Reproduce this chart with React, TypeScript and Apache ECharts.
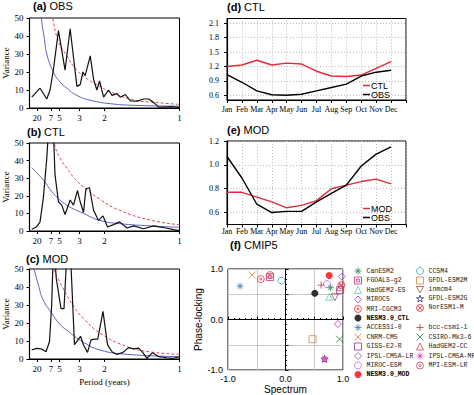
import React, { useEffect, useRef } from 'react';
import * as echarts from 'echarts';

// ---------- DATA ----------
const periodTicks = [20, 7, 5, 3, 2, 1];
const months = ['Jan', 'Feb', 'Mar', 'Apr', 'May', 'Jun', 'Jul', 'Aug', 'Sep', 'Oct', 'Nov', 'Dec'];

// (a) OBS spectrum (x = frequency 1/yr)
const obsFreq = [0.015, 0.07, 0.115, 0.137, 0.159, 0.193, 0.237, 0.271, 0.316, 0.338, 0.356, 0.371, 0.405, 0.427, 0.449, 0.467, 0.494, 0.527, 0.55, 0.583, 0.605, 0.639, 0.672, 0.717, 0.761, 0.795, 0.828, 0.862, 0.895, 0.94, 1.0];
const obsSpec = [6, 11, 5, 10, 21, 43, 21, 44, 12, 13, 20, 18, 29, 16, 10, 15, 6, 10, 7, 8, 6, 7.5, 4, 3.8, 5, 5, 3, 0.5, 0.5, 0.8, 0.3];
const obsRedFreq = [0.06, 0.079, 0.1, 0.115, 0.159, 0.203, 0.249, 0.316, 0.405, 0.539, 0.695, 1.0];
const obsRed = [68, 50, 38, 30, 20, 14.5, 11, 7, 4.3, 2.4, 1.5, 1.0];
const obsSigFreq = [0.14, 0.155, 0.193, 0.249, 0.316, 0.405, 0.47, 0.539, 0.695, 0.85, 1.0];
const obsSig = [58, 50, 37, 29, 21, 15, 12, 9, 4.5, 3, 2];

// (b) CTL spectrum
const ctlFreq = [0.015, 0.046, 0.07, 0.092, 0.115, 0.13, 0.145, 0.159, 0.17, 0.193, 0.215, 0.237, 0.271, 0.293, 0.32, 0.338, 0.36, 0.376, 0.4, 0.427, 0.46, 0.49, 0.52, 0.56, 0.6, 0.65, 0.695, 0.76, 0.828, 0.862, 0.91, 0.96, 1.0];
const ctlSpec = [1, 2.3, 5, 18.5, 41, 62, 68, 58, 32, 16.6, 14.7, 9.4, 17.6, 14.7, 23, 16.6, 10.5, 24, 24.6, 11.8, 6, 8.6, 2.3, 3.6, 5.2, 1.7, 2.9, 1.3, 2.9, 2.3, 1.7, 0.8, 0.2];
const ctlRedFreq = [0.015, 0.092, 0.159, 0.249, 0.36, 0.47, 0.6, 0.81, 1.0];
const ctlRed = [36, 29, 21.4, 14.7, 10, 6, 4.2, 2.9, 2.1];
const ctlSigFreq = [0.155, 0.165, 0.2, 0.249, 0.3, 0.36, 0.47, 0.6, 0.81, 1.0];
const ctlSig = [58, 50, 42, 35.7, 30, 25, 18, 11.8, 6.1, 3.6];

// (c) MOD spectrum
const modFreq = [0.015, 0.046, 0.08, 0.11, 0.133, 0.148, 0.158, 0.168, 0.178, 0.21, 0.23, 0.245, 0.26, 0.275, 0.3, 0.34, 0.36, 0.387, 0.41, 0.435, 0.455, 0.49, 0.52, 0.55, 0.58, 0.62, 0.66, 0.695, 0.728, 0.76, 0.783, 0.82, 0.862, 0.917, 0.96, 1.0];
const modSpec = [5, 5.9, 5.6, 4, 9.6, 30, 58, 60, 45, 28, 28, 52, 64, 55, 8, 12.6, 7.8, 3.7, 10.6, 11, 11, 26.5, 8, 4, 2.6, 3.5, 6.3, 5.6, 6, 3.1, 0.4, 3.5, 1.3, 0.7, 0.4, 1.3];
const modRedFreq = [0.03, 0.06, 0.09, 0.148, 0.2, 0.249, 0.36, 0.47, 0.65, 1.0];
const modRed = [50, 41, 33, 25.5, 19.5, 16, 9.3, 5, 2.6, 1.3];
const modSigFreq = [0.15, 0.163, 0.2, 0.249, 0.3, 0.36, 0.47, 0.65, 0.8, 1.0];
const modSig = [58, 50, 43, 35.5, 28.5, 22.6, 14.4, 6.9, 4, 2.6];

// (d) CTL seasonal
const ctlSeason = [1.20, 1.23, 1.33, 1.23, 1.27, 1.25, 1.10, 1.00, 0.99, 1.02, 1.16, 1.30];
const obsSeasonD = [1.03, 0.87, 0.69, 0.61, 0.60, 0.62, 0.69, 0.76, 0.83, 1.00, 1.08, 1.12];
const dTicks = [0.6, 0.9, 1.2, 1.5, 1.8, 2.1];

// (e) MOD seasonal
const modSeason = [0.77, 0.77, 0.73, 0.69, 0.64, 0.66, 0.70, 0.80, 0.83, 0.86, 0.88, 0.84];
const obsSeasonE = [1.07, 0.89, 0.67, 0.60, 0.61, 0.61, 0.69, 0.76, 0.83, 0.99, 1.09, 1.15];
const eTicks = [0.6, 0.8, 1.0, 1.2];

// (f) CMIP5 scores
const modelNames = ['CanESM2', 'CCSM4', 'FGOALS-g2', 'GFDL-ESM2M', 'HadGEM2-ES', 'inmcm4', 'MIROC5', 'GFDL-ESM2G', 'MRI-CGCM3', 'NorESM1-M', 'NESM3.0_CTL',
  'ACCESS1-0', 'bcc-csm1-1', 'CNRM-CM5', 'CSIRO-Mk3-6', 'GISS-E2-R', 'HadGEM2-CC', 'IPSL-CM5A-LR', 'IPSL-CM5A-MR', 'MIROC-ESM', 'MPI-ESM-LR', 'NESM3.0_MOD'];
const spectrumScore = [0.78, -0.07, -0.27, 0.47, 0.76, 0.86, 0.91, 0.68, -0.43, 0.97, 0.51, -0.79, 0.62, -0.58, 0.94, 0.95, 0.95, 0.98, 0.68, 0.72, -0.27, 0.76];
const phaseScore = [0.63, 0.77, 0.84, -0.39, 0.45, 0.44, -0.09, -0.78, 0.80, 0.68, 0.52, 0.66, 0.68, 0.88, -0.39, 0.58, 0.64, 0.85, -0.78, 0.70, 0.88, 0.87];
const legendCols = [
  ['CanESM2', 'FGOALS-g2', 'HadGEM2-ES', 'MIROC5', 'MRI-CGCM3', 'NESM3.0_CTL'],
  ['CCSM4', 'GFDL-ESM2M', 'inmcm4', 'GFDL-ESM2G', 'NorESM1-M'],
  ['ACCESS1-0', 'CNRM-CM5', 'GISS-E2-R', 'IPSL-CM5A-LR', 'MIROC-ESM', 'NESM3.0_MOD'],
  ['bcc-csm1-1', 'CSIRO-Mk3-6', 'HadGEM2-CC', 'IPSL-CM5A-MR', 'MPI-ESM-LR'],
];

// ---------- STYLE ----------
const serif = 'Liberation Serif';
const sans = 'Liberation Sans';
const mono = 'Liberation Mono';
const BLUE = '#5a60c8';
const REDD = '#e8474f';
const RED = '#e02b3a';

const SYM: Record<string, string> = {
  asterisk: 'path://M5 0L5 10M0 5L10 5M1.5 1.5L8.5 8.5M8.5 1.5L1.5 8.5',
  cross: 'path://M0 0L10 10M10 0L0 10',
  plus: 'path://M5 0L5 10M0 5L10 5',
  circleDot: 'path://M0 5A5 5 0 1 1 10 5A5 5 0 1 1 0 5ZM3.5 5A1.5 1.5 0 1 1 6.5 5A1.5 1.5 0 1 1 3.5 5Z',
  circleX: 'path://M0 5A5 5 0 1 1 10 5A5 5 0 1 1 0 5ZM1.8 1.8L8.2 8.2M8.2 1.8L1.8 8.2',
  rectDot: 'path://M0 0L10 0L10 10L0 10ZM3 3L7 3L7 7L3 7Z',
  invTri: 'path://M0 0L10 0L5 9Z',
  star: 'path://M5 0L6.2 3.6L10 3.6L6.9 5.9L8.1 9.5L5 7.3L1.9 9.5L3.1 5.9L0 3.6L3.8 3.6Z',
};
const modelStyle: Record<string, [string, string, boolean]> = {
  'CanESM2': [SYM.asterisk, '#2e8b57', false],
  'CCSM4': ['circle', '#3aa0b8', false],
  'FGOALS-g2': [SYM.rectDot, '#c0307a', false],
  'GFDL-ESM2M': ['rect', '#e08040', false],
  'HadGEM2-ES': ['triangle', '#60d0b0', false],
  'inmcm4': [SYM.invTri, '#a0503a', false],
  'MIROC5': ['diamond', '#d030c0', false],
  'GFDL-ESM2G': [SYM.star, '#202080', false],
  'MRI-CGCM3': [SYM.circleDot, '#e03040', false],
  'NorESM1-M': [SYM.circleX, '#e02040', false],
  'NESM3.0_CTL': ['circle', '#000000', true],
  'ACCESS1-0': [SYM.asterisk, '#4080b0', false],
  'bcc-csm1-1': [SYM.plus, '#c03040', false],
  'CNRM-CM5': [SYM.cross, '#e08040', false],
  'CSIRO-Mk3-6': [SYM.cross, '#208040', false],
  'GISS-E2-R': ['rect', '#9030a0', false],
  'HadGEM2-CC': ['triangle', '#e04040', false],
  'IPSL-CM5A-LR': ['diamond', '#9050b0', false],
  'IPSL-CM5A-MR': [SYM.asterisk, '#e040a0', false],
  'MIROC-ESM': ['circle', '#c060e0', false],
  'MPI-ESM-LR': [SYM.circleDot, '#d04050', false],
  'NESM3.0_MOD': ['circle', '#ff0000', true],
};

const pair = (xs: number[], ys: number[]) => xs.map((x, i) => [x, ys[i]]);

function buildOption() {
  const specGrids = [
    { left: 29.5, top: 18, width: 150, height: 90 },
    { left: 29.5, top: 143, width: 150, height: 88 },
    { left: 29.5, top: 269, width: 150, height: 90 },
  ];
  const grids: any[] = [
    ...specGrids,
    { left: 227, top: 18.5, width: 179, height: 81.5 },
    { left: 227, top: 141, width: 179, height: 83.5 },
    { left: 228, top: 269, width: 115, height: 101 },
  ].map((g) => ({ ...g, show: true, borderColor: '#000', borderWidth: 1, containLabel: false }));

  const tickVals = periodTicks.map((p) => 1 / p);
  const xAxes: any[] = [];
  const yAxes: any[] = [];
  for (let i = 0; i < 3; i++) {
    xAxes.push({
      gridIndex: i, type: 'value', min: 0, max: 1,
      axisLine: { show: true, lineStyle: { color: '#000', width: 1.2 } },
      axisTick: { show: true, customValues: tickVals, length: 3, lineStyle: { color: '#000' } },
      axisLabel: { customValues: tickVals, formatter: (v: number) => String(Math.round(1 / v)), fontFamily: serif, fontSize: 9, color: '#000', margin: 5 },
      splitLine: { show: false },
      name: i === 2 ? 'Period (years)' : '', nameLocation: 'middle', nameGap: 18,
      nameTextStyle: { fontFamily: serif, fontSize: 9, color: '#000' },
    });
    yAxes.push({
      gridIndex: i, type: 'value', min: 0, max: 50, interval: 10,
      axisLine: { show: true, lineStyle: { color: '#000', width: 1.2 } },
      axisTick: { show: true, length: 3, lineStyle: { color: '#000' } },
      axisLabel: { fontFamily: serif, fontSize: 9, color: '#000', margin: 6 },
      splitLine: { show: false },
      name: 'Variance', nameLocation: 'middle', nameGap: 17, nameRotate: 90,
      nameTextStyle: { fontFamily: serif, fontSize: 9, color: '#000' },
    });
  }
  for (let i = 3; i < 5; i++) {
    xAxes.push({
      gridIndex: i, type: 'value', min: 0, max: 12, interval: 1,
      axisLine: { show: true, lineStyle: { color: '#000', width: 1.2 } },
      axisTick: { show: true, length: 3, lineStyle: { color: '#000' } },
      axisLabel: { formatter: (v: number) => months[v] || '', fontFamily: serif, fontSize: 8, color: '#000', margin: i === 4 ? 3 : 5 },
      splitLine: { show: true, lineStyle: { color: '#bbb', type: [1, 2], width: 1 } },
    });
  }
  yAxes.push({
    gridIndex: 3, type: 'value', min: 0.5, max: 2.2,
    axisLine: { show: true, lineStyle: { color: '#000', width: 1.2 } },
    axisTick: { show: true, customValues: dTicks, length: 3, lineStyle: { color: '#000' } },
    axisLabel: { customValues: dTicks, formatter: (v: number) => v.toFixed(1), fontFamily: serif, fontSize: 8, color: '#000', margin: 8 },
    splitLine: { show: true, lineStyle: { color: '#bbb', type: [1, 2], width: 1 } },
  });
  yAxes.push({
    gridIndex: 4, type: 'value', min: 0.5, max: 1.2,
    axisLine: { show: true, lineStyle: { color: '#000', width: 1.2 } },
    axisTick: { show: true, customValues: eTicks, length: 3, lineStyle: { color: '#000' } },
    axisLabel: { customValues: eTicks, formatter: (v: number) => v.toFixed(1), fontFamily: serif, fontSize: 8, color: '#000', margin: 8 },
    splitLine: { show: true, lineStyle: { color: '#bbb', type: [1, 2], width: 1 } },
  });
  const fAxisCommon = {
    gridIndex: 5, type: 'value', min: -1, max: 1, interval: 0.5,
    axisLine: { show: true, lineStyle: { color: '#000', width: 1 } },
    axisTick: { show: true, inside: true, length: 3, lineStyle: { color: '#000' } },
    minorTick: { show: true, splitNumber: 5, length: 1.5, lineStyle: { color: '#000' } },
    axisLabel: { formatter: (v: number) => (Math.abs(v) === 0.5 ? '' : v.toFixed(1)), fontFamily: sans, fontSize: 9, color: '#000' },
    splitLine: { show: true, lineStyle: { color: '#c8c8c8', width: 1 } },
    nameLocation: 'middle',
    nameTextStyle: { fontFamily: sans, fontSize: 10, color: '#000' },
  };
  xAxes.push({ ...fAxisCommon, name: 'Spectrum', nameGap: 14, axisLabel: { ...fAxisCommon.axisLabel, margin: 4 } });
  yAxes.push({ ...fAxisCommon, name: 'Phase-locking', nameGap: 19, nameRotate: 90, axisLabel: { ...fAxisCommon.axisLabel, margin: 5 } });

  const series: any[] = [];
  const specSets = [
    [obsFreq, obsSpec, obsRedFreq, obsRed, obsSigFreq, obsSig],
    [ctlFreq, ctlSpec, ctlRedFreq, ctlRed, ctlSigFreq, ctlSig],
    [modFreq, modSpec, modRedFreq, modRed, modSigFreq, modSig],
  ];
  specSets.forEach((s, i) => {
    series.push({ type: 'line', xAxisIndex: i, yAxisIndex: i, data: pair(s[0], s[1]), symbol: 'none', lineStyle: { color: '#111', width: 1.2 }, z: 3 });
    series.push({ type: 'line', xAxisIndex: i, yAxisIndex: i, data: pair(s[2], s[3]), symbol: 'none', smooth: true, lineStyle: { color: BLUE, width: 1 }, z: 2 });
    series.push({ type: 'line', xAxisIndex: i, yAxisIndex: i, data: pair(s[4], s[5]), symbol: 'none', smooth: true, lineStyle: { color: REDD, width: 1, type: [3, 2] }, z: 2 });
  });
  const monthPairs = (vals: number[]) => vals.map((v, i) => [i, v]);
  series.push({ name: 'CTL', type: 'line', xAxisIndex: 3, yAxisIndex: 3, data: monthPairs(ctlSeason), symbol: 'none', color: RED, lineStyle: { color: RED, width: 1.4 } });
  series.push({ name: 'OBS', type: 'line', xAxisIndex: 3, yAxisIndex: 3, data: monthPairs(obsSeasonD), symbol: 'none', color: '#000', lineStyle: { color: '#000', width: 1.4 } });
  series.push({ name: 'MOD', type: 'line', xAxisIndex: 4, yAxisIndex: 4, data: monthPairs(modSeason), symbol: 'none', color: RED, lineStyle: { color: RED, width: 1.4 } });
  series.push({ name: 'OBS', type: 'line', xAxisIndex: 4, yAxisIndex: 4, data: monthPairs(obsSeasonE), symbol: 'none', color: '#000', lineStyle: { color: '#000', width: 1.4 } });

  modelNames.forEach((name, i) => {
    const [sym, col, filled] = modelStyle[name];
    series.push({
      name, type: 'scatter', xAxisIndex: 5, yAxisIndex: 5,
      data: [[spectrumScore[i], phaseScore[i]]],
      symbol: sym, symbolSize: 7,
      itemStyle: filled ? { color: col } : { color: 'transparent', borderColor: col, borderWidth: 1 },
      z: filled ? 4 : 3,
    });
  });

  const legendLeft = [354, 416, 354, 416];
  const legendTop = [267, 267, 323.5, 323.5];
  const legends: any[] = legendCols.map((cols, k) => ({
    data: cols, orient: 'vertical', left: legendLeft[k], top: legendTop[k], padding: 0,
    itemWidth: 7, itemHeight: 7, itemGap: 1.5, selectedMode: false,
    itemStyle: { borderWidth: 1 },
    formatter: (n: string) => (n.startsWith('NESM') ? `{b|${n}}` : n),
    textStyle: { fontFamily: mono, fontSize: 6.5, lineHeight: 7, color: '#222', rich: { b: { fontFamily: mono, fontSize: 6.5, fontWeight: 'bold', color: '#000' } } },
  }));
  legends.push({
    data: ['CTL', 'OBS'], orient: 'vertical', left: 363, top: 81, padding: 0, icon: 'rect',
    itemWidth: 7, itemHeight: 1.5, itemGap: 0, selectedMode: false, itemStyle: { borderWidth: 0 },
    textStyle: { fontFamily: sans, fontSize: 9, lineHeight: 8.5, color: '#000', padding: [0, 0, 0, -4] },
  });
  legends.push({
    data: ['MOD', 'OBS'], orient: 'vertical', left: 363, top: 204, padding: 0, icon: 'rect',
    itemWidth: 7, itemHeight: 1.5, itemGap: 0, selectedMode: false, itemStyle: { borderWidth: 0 },
    textStyle: { fontFamily: sans, fontSize: 9, lineHeight: 8.5, color: '#000', padding: [0, 0, 0, -4] },
  });

  const title = (label: string, name: string, x: number, y: number) => ({
    type: 'text', left: x, top: y,
    style: {
      text: `{b|${label}} ${name}`, fontFamily: sans, fontSize: 11, fill: '#000',
      rich: { b: { fontFamily: sans, fontSize: 11, fontWeight: 'bold', fill: '#000' } },
    },
  });

  return {
    animation: false,
    backgroundColor: '#fff',
    textStyle: { fontFamily: sans },
    grid: grids,
    xAxis: xAxes,
    yAxis: yAxes,
    legend: legends,
    series,
    graphic: [
      title('(a)', 'OBS', 33, 0),
      title('(b)', 'CTL', 27, 126),
      title('(c)', 'MOD', 26, 253),
      title('(d)', 'CTL', 227, 1),
      title('(e)', 'MOD', 227, 124),
      title('(f)', 'CMIP5', 230, 239),
    ],
  };
}

export default function App() {
  const ref = useRef<HTMLDivElement>(null);
  useEffect(() => {
    const chart = echarts.init(ref.current!, undefined, { renderer: 'svg' });
    chart.setOption(buildOption() as any);
    return () => chart.dispose();
  }, []);
  return <div ref={ref} style={{ position: 'fixed', left: 0, top: 0, width: 474, height: 395, background: '#fff' }} />;
}
